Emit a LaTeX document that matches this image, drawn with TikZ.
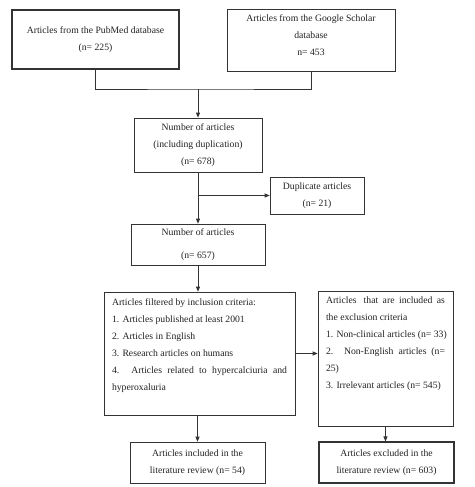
\documentclass[tikz,border=0pt]{standalone}
\usepackage{fontspec}
\setmainfont{Liberation Serif}
\usetikzlibrary{arrows.meta}
\definecolor{ink}{HTML}{222222}
\definecolor{edge}{HTML}{333333}
\tikzset{
  box/.style={draw=edge, line width=0.7pt, inner sep=0pt, align=center, text=ink,
    font={\fontsize{9.7}{17}\selectfont}},
  thickbox/.style={box, line width=1.1pt},
  conn/.style={draw=edge, line width=0.8pt},
  arr/.style={conn, -{Triangle[length=5pt,width=4pt]}},
}
\newcommand{\jline}[1]{\makebox[\linewidth][s]{#1}\par}
\begin{document}
\begin{tikzpicture}[x=1pt,y=-1pt]
\useasboundingbox[fill=white] (0,0) rectangle (474,487);
\node[thickbox, minimum width=167pt, minimum height=59pt] (pub) at (95.5,39.5)
  {Articles from the PubMed database\\(n= 225)};
\node[box, minimum width=168pt, minimum height=62pt] (gs) at (311,40)
  {\parbox[c][62pt][t]{160pt}{\centering\vspace*{6pt}%
  Articles from the Google Scholar\par database\par n= 453\par}};
\node[box, minimum width=128pt, minimum height=54pt] (tot) at (198,145)
  {Number of articles\\(including duplication)\\(n= 678)};
\node[box, minimum width=94pt, minimum height=37pt] (dup) at (317,195.5)
  {Duplicate articles\\(n= 21)};
\node[box, minimum width=134pt, minimum height=41pt] (num) at (198,244.5)
  {Number of articles\\[6pt](n= 657)};
\node[box, minimum width=191pt, minimum height=123pt] (inc) at (199.5,353.5)
  {\parbox[c][123pt][t]{175pt}{\parindent=0pt\raggedright\vspace*{7pt}%
  Articles filtered by inclusion criteria:\par
  1. Articles published at least 2001\par
  2. Articles in English\par
  3. Research articles on humans\par
  \jline{4. Articles related to hypercalciuria and}
  hyperoxaluria\par}};
\node[box, minimum width=135pt, minimum height=135pt] (exc) at (385.5,358.5)
  {\parbox[c][135pt][t]{119pt}{\parindent=0pt\raggedright\vspace*{6pt}%
  \jline{Articles\hspace{7pt}that are included as}
  the exclusion criteria\par
  \mbox{1. Non-clinical articles (n=~33)}\par
  \jline{2. Non-English articles (n=}
  25)\par
  3. Irrelevant articles (n= 545)\par}};
\node[box, minimum width=135pt, minimum height=41pt] (incl) at (197.5,462.5)
  {Articles included in the\\literature review (n= 54)};
\node[thickbox, minimum width=135pt, minimum height=41pt] (excl) at (386.5,462.5)
  {Articles excluded in the\\literature review (n= 603)};
\coordinate (m) at (198,89);
\coordinate (b) at (198,195.5);
\draw[conn] (pub.south) |- (m) -| (gs.south);
\draw[arr] (m) -- (tot.north);
\draw[arr] (tot.south) -- (num.north);
\draw[arr] (b) -- (dup.west);
\draw[arr] (num.south) -- (num.south |- inc.north);
\draw[arr] (inc.east) -- (inc.east -| exc.west);
\draw[arr] (inc.south -| incl.north) -- (incl.north);
\draw[arr] (exc.south) -- (exc.south |- excl.north);
\end{tikzpicture}
\end{document}
